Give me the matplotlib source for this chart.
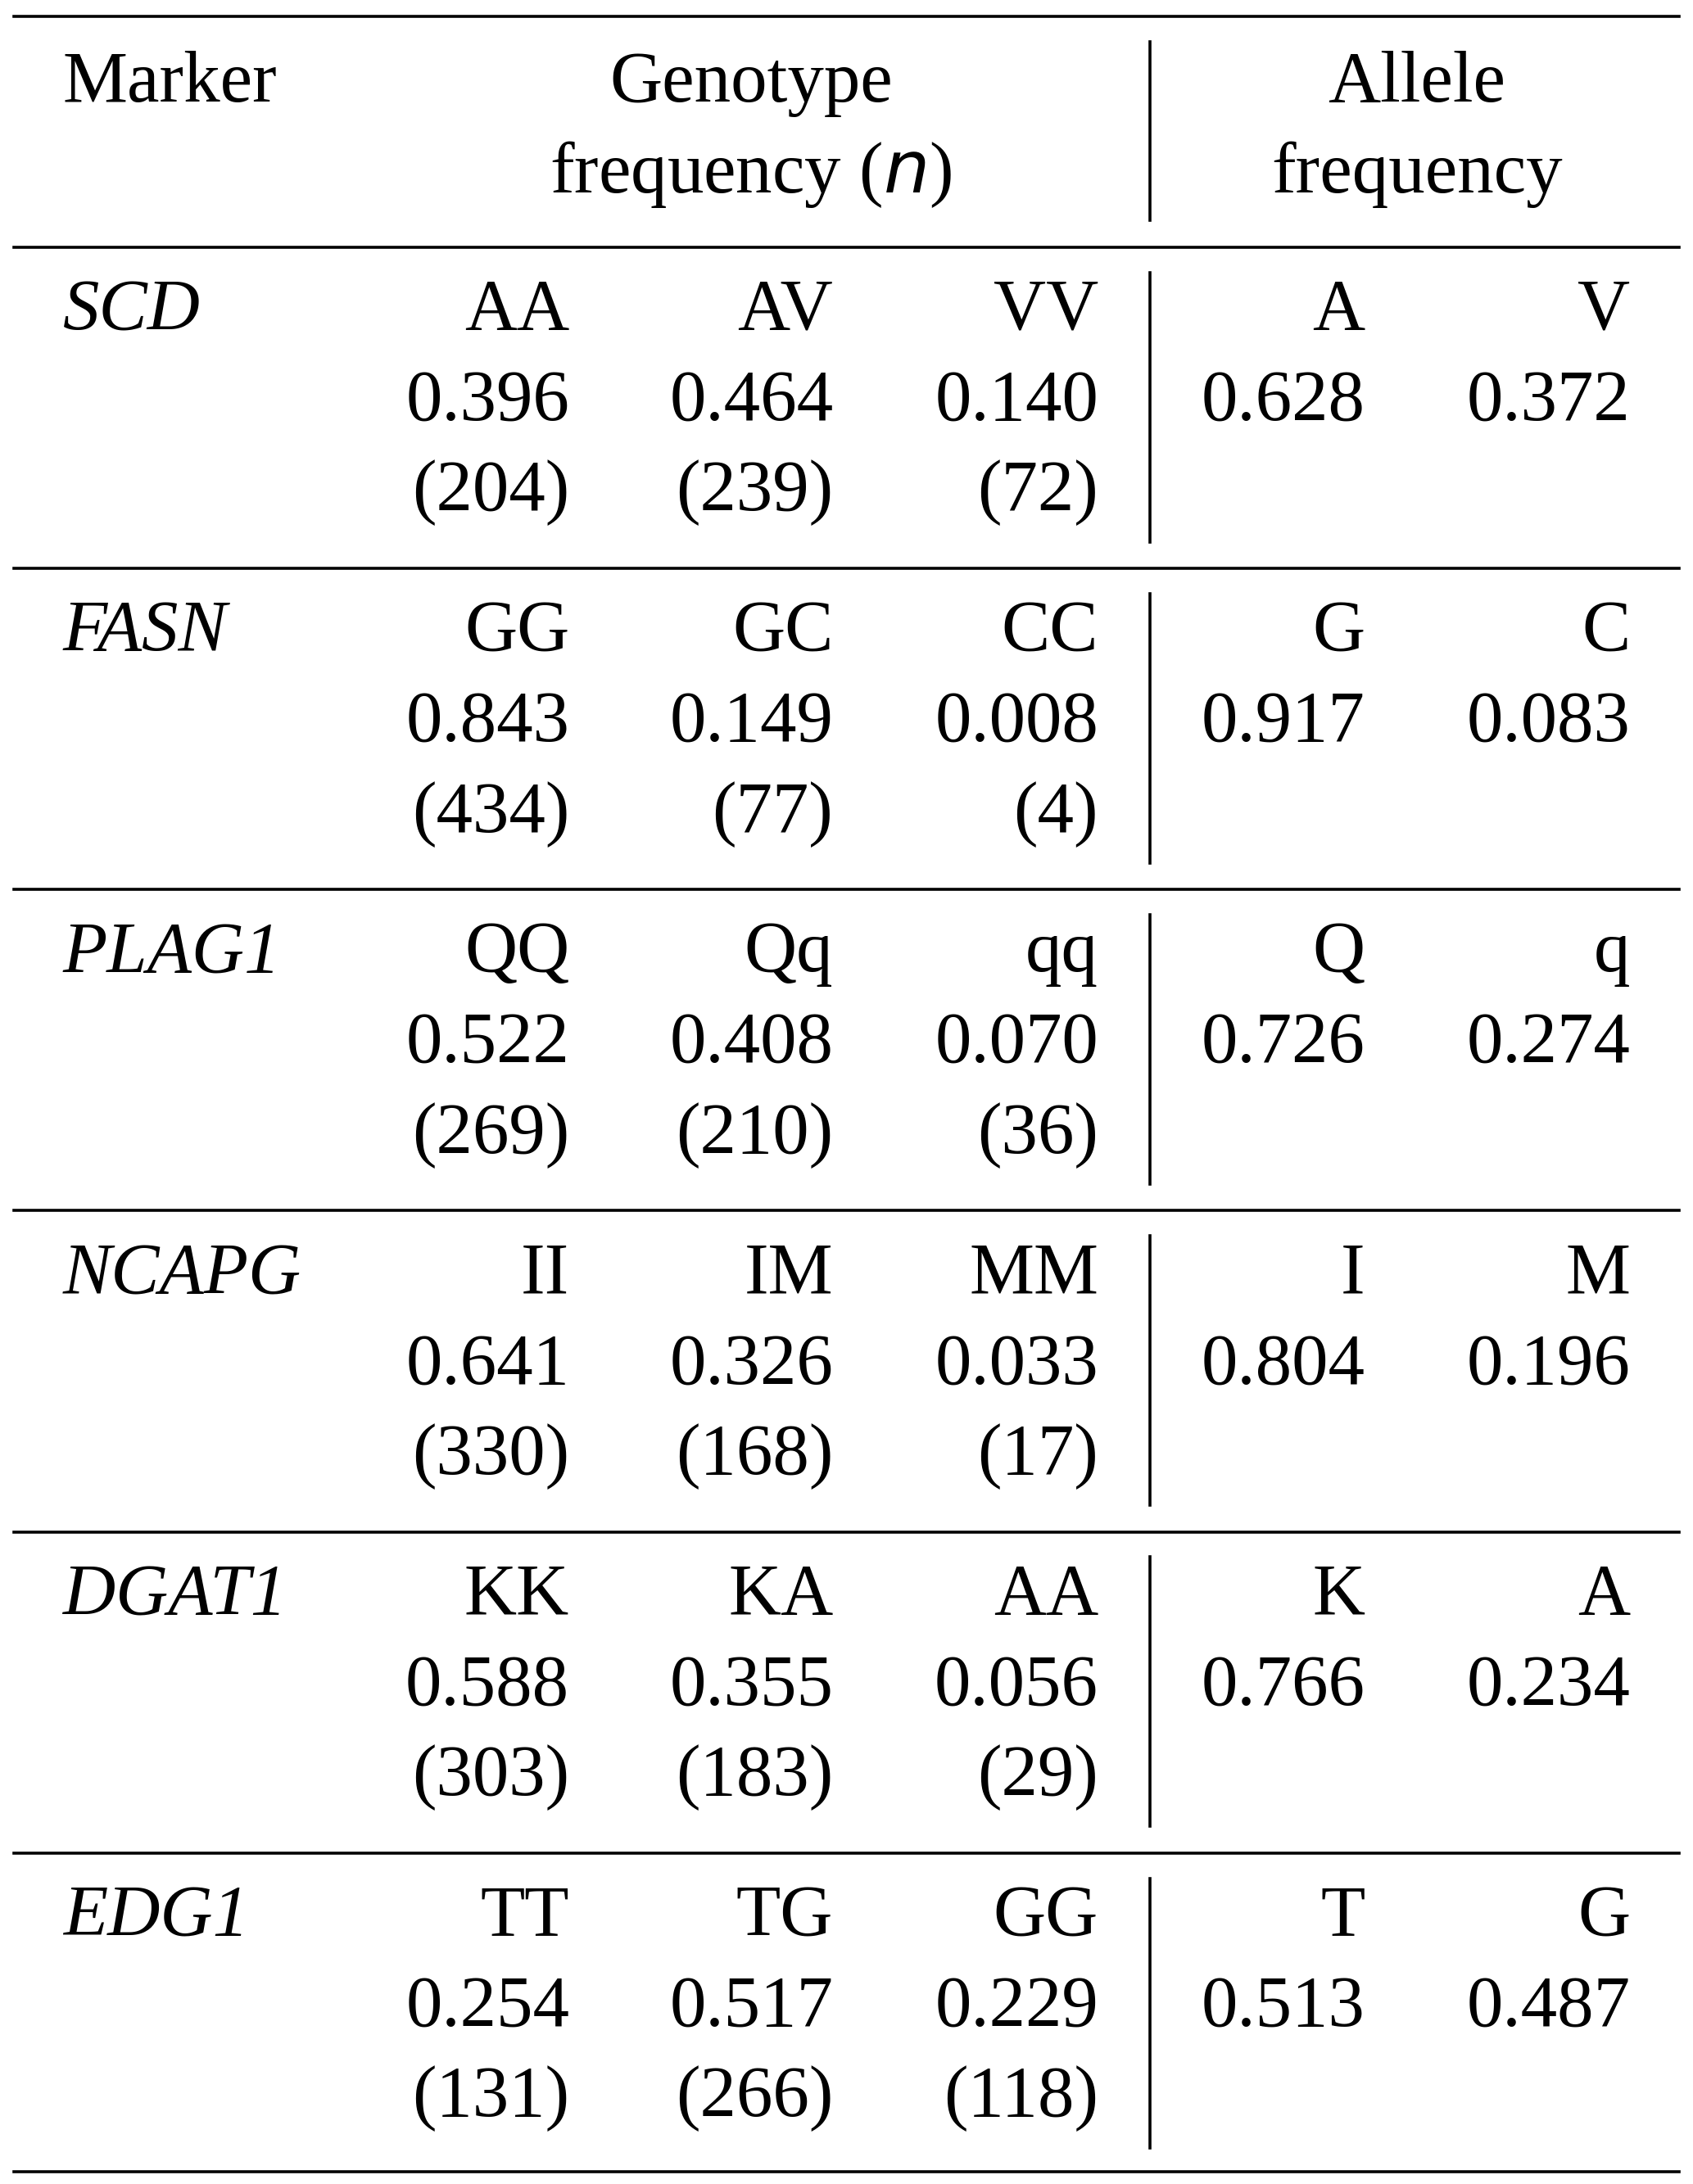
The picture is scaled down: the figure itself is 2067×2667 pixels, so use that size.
import matplotlib.pyplot as plt

plt.rcParams['font.family'] = ['Liberation Serif', 'DejaVu Serif']

markers = ['SCD', 'FASN', 'PLAG1', 'NCAPG', 'DGAT1', 'EDG1']
genotypes = [['AA', 'AV', 'VV'], ['GG', 'GC', 'CC'], ['QQ', 'Qq', 'qq'],
             ['II', 'IM', 'MM'], ['KK', 'KA', 'AA'], ['TT', 'TG', 'GG']]
geno_freq = [['0.396', '0.464', '0.140'], ['0.843', '0.149', '0.008'],
             ['0.522', '0.408', '0.070'], ['0.641', '0.326', '0.033'],
             ['0.588', '0.355', '0.056'], ['0.254', '0.517', '0.229']]
geno_n = [['(204)', '(239)', '(72)'], ['(434)', '(77)', '(4)'],
          ['(269)', '(210)', '(36)'], ['(330)', '(168)', '(17)'],
          ['(303)', '(183)', '(29)'], ['(131)', '(266)', '(118)']]
alleles = [['A', 'V'], ['G', 'C'], ['Q', 'q'], ['I', 'M'], ['K', 'A'], ['T', 'G']]
allele_freq = [['0.628', '0.372'], ['0.917', '0.083'], ['0.726', '0.274'],
               ['0.804', '0.196'], ['0.766', '0.234'], ['0.513', '0.487']]

W, H = 1213.0, 1564.0
fig = plt.figure(figsize=(20.67, 26.67), dpi=100)
fs = 64
lw = 2.6

def X(x):
    return x / W

def Y(y):
    return 1 - y / H

def hline(y):
    fig.add_artist(plt.Line2D([X(10), X(1203)], [Y(y), Y(y)], color='black', lw=lw))

def vline(y0, y1):
    fig.add_artist(plt.Line2D([X(824), X(824)], [Y(y0), Y(y1)], color='black', lw=lw))

def txt(x, y, s, ha='left', style='normal'):
    fig.text(X(x), Y(y), s, ha=ha, va='center', fontsize=fs, style=style)

# header
hline(12)
txt(45, 60, 'Marker')
txt(538, 60, 'Genotype', ha='center')
fig.text(X(538), Y(125), 'frequency ($\\it{n}$)', ha='center', va='center', fontsize=fs)
txt(1015, 60, 'Allele', ha='center')
txt(1015, 125, 'frequency', ha='center')
vline(30, 158)
hline(177)

geno_x = [408, 597, 787]
allele_x = [978, 1168]
for i, m in enumerate(markers):
    top = 177 + 230 * i
    y1, y2, y3 = top + 46, top + 111, top + 176
    txt(45, y1, m, style='italic')
    for j in range(3):
        txt(geno_x[j], y1, genotypes[i][j], ha='right')
        txt(geno_x[j], y2, geno_freq[i][j], ha='right')
        txt(geno_x[j], y3, geno_n[i][j], ha='right')
    for j in range(2):
        txt(allele_x[j], y1, alleles[i][j], ha='right')
        txt(allele_x[j], y2, allele_freq[i][j], ha='right')
    vline(top + 18, top + 211)
    hline(top + 230 if i < 5 else 1555)

fig.savefig('out.png', dpi=100)
